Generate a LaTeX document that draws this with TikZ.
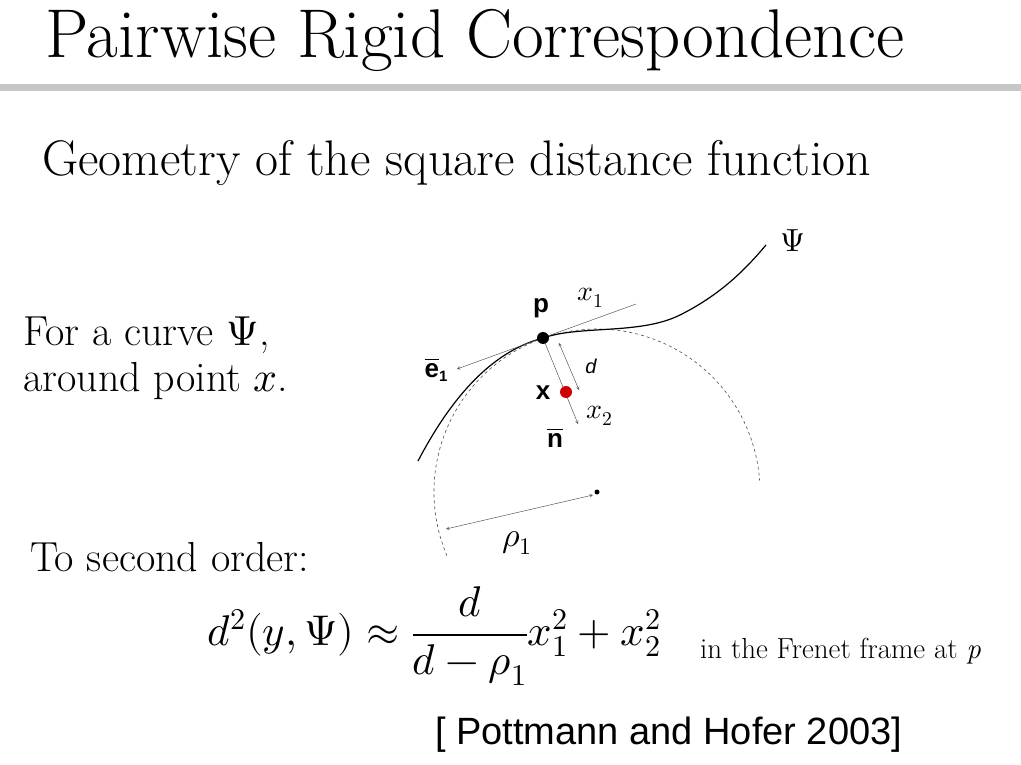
\documentclass[tikz,border=0pt]{standalone}
\usepackage{amsmath}
\usepackage{unicode-math}
\setmathfont{Latin Modern Math}
\newfontfamily\arial{Liberation Sans}
\begin{document}
\begin{tikzpicture}[x=1pt,y=-1pt,
  thin/.style={line width=0.5pt,gray!70!black},
  lbl/.style={inner sep=0pt}]
\useasboundingbox (0,0) rectangle (1021,765);
\node[lbl,anchor=west] (title) at (45,40) {\fontsize{69}{76}\selectfont Pairwise Rigid Correspondence};
\fill[gray!45] (0,84) rectangle (1021,91);
\node[lbl,anchor=west] (sub) at (42,163) {\fontsize{50}{56}\selectfont Geometry of the square distance function};
\node[lbl,anchor=west] (t1) at (23,335) {\fontsize{42}{48}\selectfont For a curve $\Psi$,};
\node[lbl,anchor=west] (t2) at (23,381) {\fontsize{42}{48}\selectfont around point $x$.};
\node[lbl,anchor=west] (t3) at (30,557) {\fontsize{42}{48}\selectfont To second order:};
\node[lbl] (f) at (434,636) {\fontsize{43}{48}\selectfont $d^2(y,\Psi)\approx\dfrac{d}{d-\rho_1}x_1^2+x_2^2$};
\node[lbl,anchor=west] (fr) at (700,651) {\fontsize{29}{34}\selectfont in the Frenet frame at \textit{p}};
\node[lbl,anchor=west] (ref) at (435,735) {\fontsize{38}{44}\selectfont\arial [ Pottmann and Hofer 2003]};
% diagram
\coordinate (p) at (543,338);
\coordinate (c) at (597,492);
\draw[dashed,line width=0.6pt,gray!60!black] (c) ++(157:163) arc[start angle=157,end angle=356,radius=163];
\draw[line width=1.2pt] (418,461) .. controls (450,400) and (490,352) .. (p) .. controls (580,325) and (640,335) .. (680,315) .. controls (720,295) and (745,270) .. (766,245);
\draw[thin,->,>=stealth] (636,304) -- (457,369);
\draw[thin,->,>=stealth] (p) -- (578,424);
\draw[thin,<->,>=stealth] (559,343) -- (579,390);
\draw[thin,<->,>=stealth] (446,529) -- (593,495);
\fill (p) circle (6);
\fill[red!80!black] (566,392) circle (6);
\fill (c) circle (2.5);
\node[lbl] (psi) at (793,241) {\fontsize{32}{36}\selectfont$\Psi$};
\node[lbl] (pl) at (541,308) {\fontsize{26}{30}\selectfont\arial\bfseries p};
\node[lbl] (x1) at (591,298) {\fontsize{28}{32}\selectfont $x_1$};
\node[lbl] (e1) at (436,370) {\fontsize{26}{30}\selectfont\arial\bfseries $\overline{\text{e}}$\raisebox{-4pt}{\fontsize{15}{17}\selectfont 1}};
\node[lbl] (dl) at (591,366) {\fontsize{20}{24}\selectfont\arial\itshape d};
\node[lbl] (xl) at (543,393) {\fontsize{26}{30}\selectfont\arial\bfseries x};
\node[lbl] (x2) at (600,416) {\fontsize{28}{32}\selectfont $x_2$};
\node[lbl] (nl) at (555,438) {\fontsize{26}{30}\selectfont\arial\bfseries $\overline{\text{n}}$};
\node[lbl] (rho) at (517,543) {\fontsize{34}{38}\selectfont $\rho_1$};
\end{tikzpicture}
\end{document}
